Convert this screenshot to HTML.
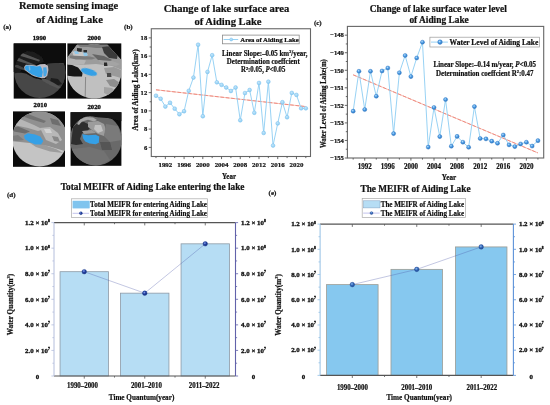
<!DOCTYPE html>
<html><head><meta charset="utf-8"><title>Aiding Lake</title>
<style>
html,body{margin:0;padding:0;background:#fff;}
svg{display:block;}
text{font-family:"Liberation Serif", serif;stroke:#1a1a1a;stroke-width:0.22px;paint-order:stroke;}
</style></head><body>
<svg width="550" height="405" viewBox="0 0 550 405">
<rect width="550" height="405" fill="#fff"/>
<defs>
<radialGradient id="gb" cx="0.4" cy="0.35" r="0.7"><stop offset="0" stop-color="#c4e6fb"/><stop offset="1" stop-color="#88cbf2"/></radialGradient>
<radialGradient id="ge" cx="0.4" cy="0.35" r="0.7"><stop offset="0" stop-color="#8ab8f0"/><stop offset="0.5" stop-color="#2e64b4"/><stop offset="1" stop-color="#1f4a92"/></radialGradient>
<radialGradient id="gc" cx="0.4" cy="0.35" r="0.7"><stop offset="0" stop-color="#b8e0ff"/><stop offset="0.45" stop-color="#4a9ae2"/><stop offset="1" stop-color="#2a70bc"/></radialGradient>
<radialGradient id="gd" cx="0.4" cy="0.35" r="0.7"><stop offset="0" stop-color="#8aa4f4"/><stop offset="0.45" stop-color="#23409e"/><stop offset="1" stop-color="#16267a"/></radialGradient>
</defs>
<text x="68.60" y="9.30" font-size="10.5" text-anchor="middle" font-weight="bold" fill="#111" >Remote sensing image</text>
<text x="69.60" y="22.60" font-size="10.5" text-anchor="middle" font-weight="bold" fill="#111" >of Aiding Lake</text>
<text x="3.20" y="28.70" font-size="7.0" text-anchor="start" font-weight="bold" fill="#111" >(a)</text>
<text x="39.40" y="39.80" font-size="6.7" text-anchor="middle" font-weight="bold" fill="#111" style="stroke-width:0.35px">1990</text>
<text x="94.10" y="39.80" font-size="6.7" text-anchor="middle" font-weight="bold" fill="#111" style="stroke-width:0.35px">2000</text>
<text x="40.30" y="107.30" font-size="6.7" text-anchor="middle" font-weight="bold" fill="#111" style="stroke-width:0.35px">2010</text>
<text x="94.20" y="109.20" font-size="6.7" text-anchor="middle" font-weight="bold" fill="#111" style="stroke-width:0.35px">2020</text>
<g id="sat">
<defs>
<clipPath id="s1"><rect x="13.7" y="43.4" width="52.3" height="55.2"/></clipPath>
<clipPath id="s2"><rect x="67.4" y="43.4" width="53.9" height="55.2"/></clipPath>
<clipPath id="s3"><rect x="13" y="111.4" width="52" height="55.4"/></clipPath>
<clipPath id="s4"><rect x="70.6" y="112.2" width="50.8" height="53.6"/></clipPath>
<clipPath id="c1" clip-path="url(#s1)"><circle cx="39.8" cy="72.4" r="25.6"/></clipPath>
<clipPath id="c2" clip-path="url(#s2)"><circle cx="94.1" cy="71.4" r="27.3"/><polygon points="77,44.8 107.5,44.8 121.3,60 121.3,76 67.4,76 67.4,57.5"/></clipPath>
<clipPath id="c3" clip-path="url(#s3)"><circle cx="39.6" cy="138.9" r="27.5"/></clipPath>
<clipPath id="c4" clip-path="url(#s4)"><circle cx="95.9" cy="139.4" r="26.0"/></clipPath>
<filter id="blur1" x="-10%" y="-10%" width="120%" height="120%"><feGaussianBlur stdDeviation="0.7"/></filter>
<filter id="blur2" x="-10%" y="-10%" width="120%" height="120%"><feGaussianBlur stdDeviation="0.35"/></filter>
</defs>
<rect x="13.7" y="43.4" width="52.3" height="55.2" fill="#0b0b0b"/>
<rect x="67.4" y="43.4" width="53.9" height="55.2" fill="#0b0b0b"/>
<rect x="13" y="111.4" width="52" height="55.4" fill="#0b0b0b"/>
<rect x="70.6" y="112.2" width="50.8" height="53.6" fill="#0b0b0b"/>
<!-- 1990 -->
<g clip-path="url(#c1)">
<rect x="13" y="45" width="54" height="55" fill="#474747"/>
</g>
<g clip-path="url(#s1)"><polygon points="10,40 70,40 70,63 58,63 50,63.5 47,64 47,80 41,79.5 34,78 26,73.5 20,72.5 14,72 10,72" fill="#0c0c0c" filter="url(#blur1)"/></g>
<g clip-path="url(#c1)">
<g filter="url(#blur1)">
<polygon points="13,74 15,62 20,55 27,51 34,52 42,57 44,62 36,64 28,65 23,68 20,72" fill="#1c1c1c"/>
<polygon points="18,53 21,52.5 30,56 40,60 39,61.5 29,58.5 19,55.5" fill="#575757"/>
<polygon points="16,58.5 19,58 27,61.5 36,65 35,66.5 26,63.5 16,60.5" fill="#525252"/>
<polygon points="15,65 18,65 23,67.5 27,69.5 25,70.5 20,69 15,67" fill="#424242"/>
<polygon points="47,64 58,63 66,65 66,87 58,86 50,82.5 46,79" fill="#3a3a3a"/>
<polygon points="51,78 58,79 62,84 56,86 50,82" fill="#1e1e1e"/>
<polygon points="41,78 46,79 54,83 61,87.5 58,88.5 50,85 43,81" fill="#555"/>
</g>
<g filter="url(#blur2)">
<polygon points="24.1,66.9 25.9,64.8 31.9,65.1 36.6,65.7 40.1,64.2 44.9,63.9 47.9,65.7 48.4,69.9 47.3,75.8 44.9,78.1 40.7,77.9 34.8,76.4 31.9,75.2 27.7,72.2 24.7,69.9" fill="#bdb9c1"/>
<polygon points="24.9,67 26.6,65.6 32,65.8 36.5,66.4 40.2,66.1 41.6,68 42.8,72 41.9,76.9 38,77.1 34.8,75.6 31.9,74.4 27.9,71.6 25.3,69.5" fill="#36a0e6"/>
<polygon points="43.2,67.6 46.4,67.2 47,72 46,76 43.6,76.6 43.3,72" fill="#4aa6e4"/>
<polygon points="28.6,66.5 30,66.3 30.5,70 29.2,71" fill="#7ab8e0"/>
</g>
</g>
<!-- 2000 -->
<g clip-path="url(#c2)">
<rect x="66" y="43" width="56" height="56" fill="#c0c0c0"/>
<g filter="url(#blur1)">
<polygon points="66,43 122,43 122,70 112,66 104,65 96,64 88,64.5 80,65 74,64 66,63" fill="#9c9c9c"/>
<polygon points="76,43 110,43 106,48 96,48 88,47 80,47" fill="#7a7a7a"/>
<polygon points="102,47 110,46 118,52 117,59 109,58 104,53" fill="#3a3a3a"/>
<polygon points="108,43 122,43 122,56 116,50" fill="#1e1e1e"/>
<polygon points="77,48 82,48.5 81.5,52 77,51.5" fill="#2a2a2a"/>
<polygon points="83.5,50 87,50 87,53 83.5,53" fill="#2a2a2a"/>
<polygon points="72,51.5 82,52 88,54.5 85,57 74,57" fill="#c8c8c8"/>
<polygon points="68,58.5 78,58.5 86,60.5 84,64.5 72,65 67,64" fill="#b4b4b4"/>
<polygon points="70,55.5 90,56.5 96,58 92,59.5 76,59.5 70,58" fill="#7c7c7c"/>
<polygon points="92,54 104,56 112,60 108,62 98,60" fill="#666"/>
<polygon points="98,60 112,61 120,64 116,66 102,64" fill="#a4a4a4"/>
<polygon points="66,64.5 72,65 78,67.5 82.5,73 82,76.5 74,76.5 66,75.5" fill="#121212"/>
<polygon points="104,62.5 107,62.5 107.5,66 104,66" fill="#2a2a2a"/>
<polygon points="104,68 114,67 121,70 121,78 114,76 106,74" fill="#9a9a9a"/>
<polygon points="107,73 111,73 111.5,77 107,77" fill="#4a4a4a"/>
<polygon points="106,80 114,79 120,83 118,88 110,86" fill="#8e8e8e"/>
<polygon points="104,87 112,88 116,92 110,96 104,93" fill="#a2a2a2"/>
<polygon points="74,51 78,51.5 79,54 75,54" fill="#90c8ea"/>
<polygon points="83,52.5 87,52.5 87.5,56 84,56" fill="#90c8ea"/>
</g>
<line x1="85.6" y1="77" x2="85.2" y2="97" stroke="#7a7a7a" stroke-width="0.8"/>
<ellipse cx="89" cy="72" rx="8.4" ry="3.3" transform="rotate(17 89 72)" fill="#36a0e6" filter="url(#blur2)"/>
</g>
<!-- 2010 -->
<g clip-path="url(#c3)">
<rect x="12" y="112" width="54" height="55" fill="#c4c4c4"/>
<g filter="url(#blur1)">
<polygon points="10,110 68,110 68,152 58,149 48,146 40,145 30,143 20,142 10,141" fill="#909090"/>
<polygon points="12,121 20,119 34,125 43,129.5 38,131 28,128 14,125" fill="#b6b6b6"/>
<polygon points="12,128 18,126.5 30,131.5 25,133.5 14,131.5" fill="#6c6c6c"/>
<polygon points="22,116 28,114 46,121 44,123 30,119" fill="#727272"/>
<polygon points="40,128 50,127 58,133 62,140 56,144 46,140" fill="#b8b8b8"/>
<polygon points="44,129 50,129 52,133 46,133" fill="#d2d2d2"/>
<polygon points="50,118 58,120 61,126 52,124" fill="#6e6e6e"/>
<polygon points="56,112 64,114 66,120 60,119" fill="#7a7a7a"/>
<polygon points="52,136 58,137 60,142 54,141" fill="#888"/>
<polygon points="30,143 44,145 56,149 63,153 50,151.5 36,147" fill="#9c9c9c"/>
<polygon points="12,136 18,135 24,140 16,141 12,140" fill="#7c7c7c"/>
</g>
<polygon points="24,135.4 27.8,133.2 35.1,134.4 40.3,136.6 43.3,141.1 41.1,144.4 35.1,144.4 29.2,142.1 24.8,139.1" fill="#36a0e6" filter="url(#blur2)"/>
</g>
<!-- 2020 -->
<g clip-path="url(#c4)">
<rect x="69" y="112" width="54" height="55" fill="#696969"/>
</g>
<g clip-path="url(#s4)"><polygon points="66,108 126,108 126,122 116,120 108,118 100,117.5 96,117 90,116 84,117 78,121 73,126 66,128" fill="#121212" filter="url(#blur1)"/></g>
<g clip-path="url(#c4)">
<g filter="url(#blur1)">
<polygon points="73,127 78,122.5 84,122 89,124.5 90,128 87,131.5 82,133.5 80,139 83,144 76,145 71,144" fill="#2e2e2e"/>
<polygon points="77,124 80,119.5 86,117 93,117.5 97,120 94,121.5 88,119.8 82,121.5 79,125" fill="#a8a8a8"/>
<polygon points="88,122 98,121 104,124 106,130 104,136 98,134 92,130 88,127" fill="#9c9c9c"/>
<polygon points="95,125 101,125 103,131 98,133 94,129" fill="#c2c2c2"/>
<polygon points="82,131 92,130 96,133 84,134" fill="#9a9a9a"/>
<polygon points="106,124 118,126 122,140 110,142 104,136" fill="#7a7a7a"/>
<polygon points="100,142 110,142 112,150 102,150" fill="#545454"/>
<polygon points="72,149 90,147 104,151 110,160 96,167 78,165" fill="#727272"/>
</g>
<polygon points="82.3,134.3 88.2,135.2 95.6,134.7 99.3,136.6 98.8,142.8 95.6,144.3 89.7,143.6 85.2,141.4 83,138.3" fill="#36a0e6" filter="url(#blur2)"/>
</g>
</g>

<text x="226.50" y="12.00" font-size="10.6" text-anchor="middle" font-weight="bold" fill="#111" >Change of lake surface area</text>
<text x="228.00" y="25.00" font-size="10.6" text-anchor="middle" font-weight="bold" fill="#111" >of Aiding Lake</text>
<text x="124.10" y="28.70" font-size="7.0" text-anchor="start" font-weight="bold" fill="#111" >(b)</text>
<rect x="151.3" y="28.75" width="159.20" height="127.75" fill="none" stroke="#666" stroke-width="1.1"/>
<line x1="148.70" y1="147.38" x2="151.30" y2="147.38" stroke="#555" stroke-width="0.9" />
<text x="147.20" y="149.68" font-size="6.6" text-anchor="end" font-weight="bold" fill="#111" >6</text>
<line x1="149.70" y1="138.25" x2="151.30" y2="138.25" stroke="#555" stroke-width="0.9" />
<line x1="148.70" y1="129.12" x2="151.30" y2="129.12" stroke="#555" stroke-width="0.9" />
<text x="147.20" y="131.43" font-size="6.6" text-anchor="end" font-weight="bold" fill="#111" >8</text>
<line x1="149.70" y1="120.00" x2="151.30" y2="120.00" stroke="#555" stroke-width="0.9" />
<line x1="148.70" y1="110.88" x2="151.30" y2="110.88" stroke="#555" stroke-width="0.9" />
<text x="147.20" y="113.17" font-size="6.6" text-anchor="end" font-weight="bold" fill="#111" >10</text>
<line x1="149.70" y1="101.75" x2="151.30" y2="101.75" stroke="#555" stroke-width="0.9" />
<line x1="148.70" y1="92.62" x2="151.30" y2="92.62" stroke="#555" stroke-width="0.9" />
<text x="147.20" y="94.92" font-size="6.6" text-anchor="end" font-weight="bold" fill="#111" >12</text>
<line x1="149.70" y1="83.50" x2="151.30" y2="83.50" stroke="#555" stroke-width="0.9" />
<line x1="148.70" y1="74.38" x2="151.30" y2="74.38" stroke="#555" stroke-width="0.9" />
<text x="147.20" y="76.67" font-size="6.6" text-anchor="end" font-weight="bold" fill="#111" >14</text>
<line x1="149.70" y1="65.25" x2="151.30" y2="65.25" stroke="#555" stroke-width="0.9" />
<line x1="148.70" y1="56.12" x2="151.30" y2="56.12" stroke="#555" stroke-width="0.9" />
<text x="147.20" y="58.42" font-size="6.6" text-anchor="end" font-weight="bold" fill="#111" >16</text>
<line x1="149.70" y1="47.00" x2="151.30" y2="47.00" stroke="#555" stroke-width="0.9" />
<line x1="148.70" y1="37.88" x2="151.30" y2="37.88" stroke="#555" stroke-width="0.9" />
<text x="147.20" y="40.17" font-size="6.6" text-anchor="end" font-weight="bold" fill="#111" >18</text>
<line x1="155.98" y1="156.50" x2="155.98" y2="158.10" stroke="#555" stroke-width="0.9" />
<line x1="165.35" y1="156.50" x2="165.35" y2="159.10" stroke="#555" stroke-width="0.9" />
<text x="165.35" y="166.60" font-size="6.9" text-anchor="middle" font-weight="bold" fill="#111" >1992</text>
<line x1="174.71" y1="156.50" x2="174.71" y2="158.10" stroke="#555" stroke-width="0.9" />
<line x1="184.08" y1="156.50" x2="184.08" y2="159.10" stroke="#555" stroke-width="0.9" />
<text x="184.08" y="166.60" font-size="6.9" text-anchor="middle" font-weight="bold" fill="#111" >1996</text>
<line x1="193.44" y1="156.50" x2="193.44" y2="158.10" stroke="#555" stroke-width="0.9" />
<line x1="202.81" y1="156.50" x2="202.81" y2="159.10" stroke="#555" stroke-width="0.9" />
<text x="202.81" y="166.60" font-size="6.9" text-anchor="middle" font-weight="bold" fill="#111" >2000</text>
<line x1="212.17" y1="156.50" x2="212.17" y2="158.10" stroke="#555" stroke-width="0.9" />
<line x1="221.54" y1="156.50" x2="221.54" y2="159.10" stroke="#555" stroke-width="0.9" />
<text x="221.54" y="166.60" font-size="6.9" text-anchor="middle" font-weight="bold" fill="#111" >2004</text>
<line x1="230.90" y1="156.50" x2="230.90" y2="158.10" stroke="#555" stroke-width="0.9" />
<line x1="240.26" y1="156.50" x2="240.26" y2="159.10" stroke="#555" stroke-width="0.9" />
<text x="240.26" y="166.60" font-size="6.9" text-anchor="middle" font-weight="bold" fill="#111" >2008</text>
<line x1="249.63" y1="156.50" x2="249.63" y2="158.10" stroke="#555" stroke-width="0.9" />
<line x1="258.99" y1="156.50" x2="258.99" y2="159.10" stroke="#555" stroke-width="0.9" />
<text x="258.99" y="166.60" font-size="6.9" text-anchor="middle" font-weight="bold" fill="#111" >2012</text>
<line x1="268.36" y1="156.50" x2="268.36" y2="158.10" stroke="#555" stroke-width="0.9" />
<line x1="277.72" y1="156.50" x2="277.72" y2="159.10" stroke="#555" stroke-width="0.9" />
<text x="277.72" y="166.60" font-size="6.9" text-anchor="middle" font-weight="bold" fill="#111" >2016</text>
<line x1="287.09" y1="156.50" x2="287.09" y2="158.10" stroke="#555" stroke-width="0.9" />
<line x1="296.45" y1="156.50" x2="296.45" y2="159.10" stroke="#555" stroke-width="0.9" />
<text x="296.45" y="166.60" font-size="6.9" text-anchor="middle" font-weight="bold" fill="#111" >2020</text>
<line x1="305.82" y1="156.50" x2="305.82" y2="158.10" stroke="#555" stroke-width="0.9" />
<text x="229.00" y="178.50" font-size="7.3" text-anchor="middle" font-weight="bold" fill="#111" textLength="14.00" lengthAdjust="spacingAndGlyphs" >Year</text>
<text x="0.00" y="0.00" font-size="7.4" text-anchor="middle" font-weight="bold" fill="#111" transform="translate(138.3,90) rotate(-90)">Area of Aiding Lake(km<tspan font-size="4.5" dy="-2.6">2</tspan><tspan dy="2.6">)</tspan></text>
<line x1="155.98" y1="89.80" x2="305.82" y2="106.59" stroke="#f6c6ba" stroke-width="1.0"/>
<line x1="155.98" y1="89.80" x2="305.82" y2="106.59" stroke="#f08a80" stroke-width="1.0" stroke-dasharray="3.6 1.8"/>
<polyline points="155.98,95.73 160.66,98.74 165.35,106.59 170.03,102.75 174.71,108.69 179.39,114.25 184.08,111.24 188.76,90.80 193.44,77.57 198.12,44.72 202.81,116.26 207.49,71.91 212.17,55.21 216.85,82.31 221.54,84.87 226.22,87.52 230.90,90.98 235.58,87.52 240.26,120.27 244.95,93.08 249.63,89.98 254.31,112.79 258.99,82.95 263.68,132.96 268.36,81.67 273.04,145.55 277.72,123.38 282.41,102.21 287.09,117.26 291.77,92.90 296.45,94.91 301.14,108.32 305.82,108.32" fill="none" stroke="#8ccdf3" stroke-width="0.9"/>
<circle cx="155.98" cy="95.73" r="1.9" fill="url(#gb)" stroke="#7cc0ec" stroke-width="0.5"/>
<circle cx="160.66" cy="98.74" r="1.9" fill="url(#gb)" stroke="#7cc0ec" stroke-width="0.5"/>
<circle cx="165.35" cy="106.59" r="1.9" fill="url(#gb)" stroke="#7cc0ec" stroke-width="0.5"/>
<circle cx="170.03" cy="102.75" r="1.9" fill="url(#gb)" stroke="#7cc0ec" stroke-width="0.5"/>
<circle cx="174.71" cy="108.69" r="1.9" fill="url(#gb)" stroke="#7cc0ec" stroke-width="0.5"/>
<circle cx="179.39" cy="114.25" r="1.9" fill="url(#gb)" stroke="#7cc0ec" stroke-width="0.5"/>
<circle cx="184.08" cy="111.24" r="1.9" fill="url(#gb)" stroke="#7cc0ec" stroke-width="0.5"/>
<circle cx="188.76" cy="90.80" r="1.9" fill="url(#gb)" stroke="#7cc0ec" stroke-width="0.5"/>
<circle cx="193.44" cy="77.57" r="1.9" fill="url(#gb)" stroke="#7cc0ec" stroke-width="0.5"/>
<circle cx="198.12" cy="44.72" r="1.9" fill="url(#gb)" stroke="#7cc0ec" stroke-width="0.5"/>
<circle cx="202.81" cy="116.26" r="1.9" fill="url(#gb)" stroke="#7cc0ec" stroke-width="0.5"/>
<circle cx="207.49" cy="71.91" r="1.9" fill="url(#gb)" stroke="#7cc0ec" stroke-width="0.5"/>
<circle cx="212.17" cy="55.21" r="1.9" fill="url(#gb)" stroke="#7cc0ec" stroke-width="0.5"/>
<circle cx="216.85" cy="82.31" r="1.9" fill="url(#gb)" stroke="#7cc0ec" stroke-width="0.5"/>
<circle cx="221.54" cy="84.87" r="1.9" fill="url(#gb)" stroke="#7cc0ec" stroke-width="0.5"/>
<circle cx="226.22" cy="87.52" r="1.9" fill="url(#gb)" stroke="#7cc0ec" stroke-width="0.5"/>
<circle cx="230.90" cy="90.98" r="1.9" fill="url(#gb)" stroke="#7cc0ec" stroke-width="0.5"/>
<circle cx="235.58" cy="87.52" r="1.9" fill="url(#gb)" stroke="#7cc0ec" stroke-width="0.5"/>
<circle cx="240.26" cy="120.27" r="1.9" fill="url(#gb)" stroke="#7cc0ec" stroke-width="0.5"/>
<circle cx="244.95" cy="93.08" r="1.9" fill="url(#gb)" stroke="#7cc0ec" stroke-width="0.5"/>
<circle cx="249.63" cy="89.98" r="1.9" fill="url(#gb)" stroke="#7cc0ec" stroke-width="0.5"/>
<circle cx="254.31" cy="112.79" r="1.9" fill="url(#gb)" stroke="#7cc0ec" stroke-width="0.5"/>
<circle cx="258.99" cy="82.95" r="1.9" fill="url(#gb)" stroke="#7cc0ec" stroke-width="0.5"/>
<circle cx="263.68" cy="132.96" r="1.9" fill="url(#gb)" stroke="#7cc0ec" stroke-width="0.5"/>
<circle cx="268.36" cy="81.67" r="1.9" fill="url(#gb)" stroke="#7cc0ec" stroke-width="0.5"/>
<circle cx="273.04" cy="145.55" r="1.9" fill="url(#gb)" stroke="#7cc0ec" stroke-width="0.5"/>
<circle cx="277.72" cy="123.38" r="1.9" fill="url(#gb)" stroke="#7cc0ec" stroke-width="0.5"/>
<circle cx="282.41" cy="102.21" r="1.9" fill="url(#gb)" stroke="#7cc0ec" stroke-width="0.5"/>
<circle cx="287.09" cy="117.26" r="1.9" fill="url(#gb)" stroke="#7cc0ec" stroke-width="0.5"/>
<circle cx="291.77" cy="92.90" r="1.9" fill="url(#gb)" stroke="#7cc0ec" stroke-width="0.5"/>
<circle cx="296.45" cy="94.91" r="1.9" fill="url(#gb)" stroke="#7cc0ec" stroke-width="0.5"/>
<circle cx="301.14" cy="108.32" r="1.9" fill="url(#gb)" stroke="#7cc0ec" stroke-width="0.5"/>
<circle cx="305.82" cy="108.32" r="1.9" fill="url(#gb)" stroke="#7cc0ec" stroke-width="0.5"/>
<rect x="222.4" y="35.1" width="76.8" height="8.7" fill="#fff" stroke="#8a8a8a" stroke-width="0.8"/>
<line x1="223.60" y1="39.50" x2="238.20" y2="39.50" stroke="#8ccdf3" stroke-width="0.9" />
<circle cx="231.2" cy="39.5" r="1.5" fill="url(#gb)" stroke="#7cc0ec" stroke-width="0.5"/>
<text x="240.30" y="42.30" font-size="6.75" text-anchor="start" font-weight="bold" fill="#111" >Area of Aiding Lake</text>
<text x="264.70" y="55.70" font-size="7.3" text-anchor="middle" font-weight="bold" fill="#111" textLength="85.42" lengthAdjust="spacingAndGlyphs" >Linear Slope:&#8211;0.05 km<tspan font-size="4.52" dy="-2.52">2</tspan><tspan dy="2.52">/year,</tspan></text>
<text x="263.30" y="63.60" font-size="7.3" text-anchor="middle" font-weight="bold" fill="#111" textLength="72.91" lengthAdjust="spacingAndGlyphs" >Determination coeffcient</text>
<text x="263.20" y="72.10" font-size="7.3" text-anchor="middle" font-weight="bold" fill="#111" textLength="44.27" lengthAdjust="spacingAndGlyphs" >R<tspan font-size="4.65" dy="-2.60">2</tspan><tspan dy="2.60">:0.05, </tspan><tspan font-style="italic">P</tspan>&lt;0.05</text>
<text x="438.30" y="12.10" font-size="9.4" text-anchor="middle" font-weight="bold" fill="#111" >Change of lake surface water level</text>
<text x="439.10" y="23.40" font-size="9.4" text-anchor="middle" font-weight="bold" fill="#111" >of Aiding Lake</text>
<text x="313.90" y="24.80" font-size="7.0" text-anchor="start" font-weight="bold" fill="#111" >(c)</text>
<rect x="347.4" y="26.4" width="196.30" height="131.60" fill="none" stroke="#666" stroke-width="1.1"/>
<line x1="344.80" y1="158.00" x2="347.40" y2="158.00" stroke="#555" stroke-width="0.9" />
<text x="343.90" y="160.30" font-size="6.6" text-anchor="end" font-weight="bold" fill="#111" >&#8722;155</text>
<line x1="345.80" y1="149.23" x2="347.40" y2="149.23" stroke="#555" stroke-width="0.9" />
<line x1="344.80" y1="140.45" x2="347.40" y2="140.45" stroke="#555" stroke-width="0.9" />
<text x="343.90" y="142.75" font-size="6.6" text-anchor="end" font-weight="bold" fill="#111" >&#8722;154</text>
<line x1="345.80" y1="131.68" x2="347.40" y2="131.68" stroke="#555" stroke-width="0.9" />
<line x1="344.80" y1="122.91" x2="347.40" y2="122.91" stroke="#555" stroke-width="0.9" />
<text x="343.90" y="125.21" font-size="6.6" text-anchor="end" font-weight="bold" fill="#111" >&#8722;153</text>
<line x1="345.80" y1="114.13" x2="347.40" y2="114.13" stroke="#555" stroke-width="0.9" />
<line x1="344.80" y1="105.36" x2="347.40" y2="105.36" stroke="#555" stroke-width="0.9" />
<text x="343.90" y="107.66" font-size="6.6" text-anchor="end" font-weight="bold" fill="#111" >&#8722;152</text>
<line x1="345.80" y1="96.59" x2="347.40" y2="96.59" stroke="#555" stroke-width="0.9" />
<line x1="344.80" y1="87.81" x2="347.40" y2="87.81" stroke="#555" stroke-width="0.9" />
<text x="343.90" y="90.11" font-size="6.6" text-anchor="end" font-weight="bold" fill="#111" >&#8722;151</text>
<line x1="345.80" y1="79.04" x2="347.40" y2="79.04" stroke="#555" stroke-width="0.9" />
<line x1="344.80" y1="70.27" x2="347.40" y2="70.27" stroke="#555" stroke-width="0.9" />
<text x="343.90" y="72.57" font-size="6.6" text-anchor="end" font-weight="bold" fill="#111" >&#8722;150</text>
<line x1="345.80" y1="61.49" x2="347.40" y2="61.49" stroke="#555" stroke-width="0.9" />
<line x1="344.80" y1="52.72" x2="347.40" y2="52.72" stroke="#555" stroke-width="0.9" />
<text x="343.90" y="55.02" font-size="6.6" text-anchor="end" font-weight="bold" fill="#111" >&#8722;149</text>
<line x1="345.80" y1="43.95" x2="347.40" y2="43.95" stroke="#555" stroke-width="0.9" />
<line x1="344.80" y1="35.17" x2="347.40" y2="35.17" stroke="#555" stroke-width="0.9" />
<text x="343.90" y="37.47" font-size="6.6" text-anchor="end" font-weight="bold" fill="#111" >&#8722;148</text>
<line x1="353.17" y1="158.00" x2="353.17" y2="159.60" stroke="#555" stroke-width="0.9" />
<line x1="364.72" y1="158.00" x2="364.72" y2="160.60" stroke="#555" stroke-width="0.9" />
<text x="364.72" y="169.10" font-size="7.3" text-anchor="middle" font-weight="bold" fill="#111" textLength="14.00" lengthAdjust="spacingAndGlyphs" >1992</text>
<line x1="376.27" y1="158.00" x2="376.27" y2="159.60" stroke="#555" stroke-width="0.9" />
<line x1="387.81" y1="158.00" x2="387.81" y2="160.60" stroke="#555" stroke-width="0.9" />
<text x="387.81" y="169.10" font-size="7.3" text-anchor="middle" font-weight="bold" fill="#111" textLength="14.00" lengthAdjust="spacingAndGlyphs" >1996</text>
<line x1="399.36" y1="158.00" x2="399.36" y2="159.60" stroke="#555" stroke-width="0.9" />
<line x1="410.91" y1="158.00" x2="410.91" y2="160.60" stroke="#555" stroke-width="0.9" />
<text x="410.91" y="169.10" font-size="7.3" text-anchor="middle" font-weight="bold" fill="#111" textLength="14.00" lengthAdjust="spacingAndGlyphs" >2000</text>
<line x1="422.46" y1="158.00" x2="422.46" y2="159.60" stroke="#555" stroke-width="0.9" />
<line x1="434.00" y1="158.00" x2="434.00" y2="160.60" stroke="#555" stroke-width="0.9" />
<text x="434.00" y="169.10" font-size="7.3" text-anchor="middle" font-weight="bold" fill="#111" textLength="14.00" lengthAdjust="spacingAndGlyphs" >2004</text>
<line x1="445.55" y1="158.00" x2="445.55" y2="159.60" stroke="#555" stroke-width="0.9" />
<line x1="457.10" y1="158.00" x2="457.10" y2="160.60" stroke="#555" stroke-width="0.9" />
<text x="457.10" y="169.10" font-size="7.3" text-anchor="middle" font-weight="bold" fill="#111" textLength="14.00" lengthAdjust="spacingAndGlyphs" >2008</text>
<line x1="468.64" y1="158.00" x2="468.64" y2="159.60" stroke="#555" stroke-width="0.9" />
<line x1="480.19" y1="158.00" x2="480.19" y2="160.60" stroke="#555" stroke-width="0.9" />
<text x="480.19" y="169.10" font-size="7.3" text-anchor="middle" font-weight="bold" fill="#111" textLength="14.00" lengthAdjust="spacingAndGlyphs" >2012</text>
<line x1="491.74" y1="158.00" x2="491.74" y2="159.60" stroke="#555" stroke-width="0.9" />
<line x1="503.29" y1="158.00" x2="503.29" y2="160.60" stroke="#555" stroke-width="0.9" />
<text x="503.29" y="169.10" font-size="7.3" text-anchor="middle" font-weight="bold" fill="#111" textLength="14.00" lengthAdjust="spacingAndGlyphs" >2016</text>
<line x1="514.83" y1="158.00" x2="514.83" y2="159.60" stroke="#555" stroke-width="0.9" />
<line x1="526.38" y1="158.00" x2="526.38" y2="160.60" stroke="#555" stroke-width="0.9" />
<text x="526.38" y="169.10" font-size="7.3" text-anchor="middle" font-weight="bold" fill="#111" textLength="14.00" lengthAdjust="spacingAndGlyphs" >2020</text>
<line x1="537.93" y1="158.00" x2="537.93" y2="159.60" stroke="#555" stroke-width="0.9" />
<text x="449.00" y="179.70" font-size="7.3" text-anchor="middle" font-weight="bold" fill="#111" textLength="14.38" lengthAdjust="spacingAndGlyphs" >Year</text>
<text x="0.00" y="0.00" font-size="7.3" text-anchor="middle" font-weight="bold" fill="#111" textLength="88.80" lengthAdjust="spacingAndGlyphs" transform="translate(326.2,103.6) rotate(-90)">Water Level of Aiding Lake(m)</text>
<line x1="353.17" y1="74.83" x2="537.93" y2="152.91" stroke="#f6c6ba" stroke-width="1.0"/>
<line x1="353.17" y1="74.83" x2="537.93" y2="152.91" stroke="#f08a80" stroke-width="1.0" stroke-dasharray="3.6 1.8"/>
<polyline points="353.17,111.15 358.95,71.32 364.72,109.57 370.49,71.32 376.27,96.24 382.04,70.97 387.81,67.99 393.59,133.61 399.36,72.72 405.14,55.53 410.91,76.58 416.68,57.98 422.46,42.19 428.23,147.12 434.00,107.47 439.78,136.59 445.55,99.57 451.32,146.24 457.10,136.42 462.87,142.21 468.64,147.30 474.42,106.59 480.19,138.52 485.96,138.87 491.74,141.16 497.51,143.26 503.29,135.01 509.06,144.84 514.83,146.59 520.61,143.96 526.38,142.21 532.15,146.07 537.93,140.63" fill="none" stroke="#8ccdf3" stroke-width="0.9"/>
<circle cx="353.17" cy="111.15" r="2.05" fill="url(#gc)" stroke="#2f78c4" stroke-width="0.4"/>
<circle cx="358.95" cy="71.32" r="2.05" fill="url(#gc)" stroke="#2f78c4" stroke-width="0.4"/>
<circle cx="364.72" cy="109.57" r="2.05" fill="url(#gc)" stroke="#2f78c4" stroke-width="0.4"/>
<circle cx="370.49" cy="71.32" r="2.05" fill="url(#gc)" stroke="#2f78c4" stroke-width="0.4"/>
<circle cx="376.27" cy="96.24" r="2.05" fill="url(#gc)" stroke="#2f78c4" stroke-width="0.4"/>
<circle cx="382.04" cy="70.97" r="2.05" fill="url(#gc)" stroke="#2f78c4" stroke-width="0.4"/>
<circle cx="387.81" cy="67.99" r="2.05" fill="url(#gc)" stroke="#2f78c4" stroke-width="0.4"/>
<circle cx="393.59" cy="133.61" r="2.05" fill="url(#gc)" stroke="#2f78c4" stroke-width="0.4"/>
<circle cx="399.36" cy="72.72" r="2.05" fill="url(#gc)" stroke="#2f78c4" stroke-width="0.4"/>
<circle cx="405.14" cy="55.53" r="2.05" fill="url(#gc)" stroke="#2f78c4" stroke-width="0.4"/>
<circle cx="410.91" cy="76.58" r="2.05" fill="url(#gc)" stroke="#2f78c4" stroke-width="0.4"/>
<circle cx="416.68" cy="57.98" r="2.05" fill="url(#gc)" stroke="#2f78c4" stroke-width="0.4"/>
<circle cx="422.46" cy="42.19" r="2.05" fill="url(#gc)" stroke="#2f78c4" stroke-width="0.4"/>
<circle cx="428.23" cy="147.12" r="2.05" fill="url(#gc)" stroke="#2f78c4" stroke-width="0.4"/>
<circle cx="434.00" cy="107.47" r="2.05" fill="url(#gc)" stroke="#2f78c4" stroke-width="0.4"/>
<circle cx="439.78" cy="136.59" r="2.05" fill="url(#gc)" stroke="#2f78c4" stroke-width="0.4"/>
<circle cx="445.55" cy="99.57" r="2.05" fill="url(#gc)" stroke="#2f78c4" stroke-width="0.4"/>
<circle cx="451.32" cy="146.24" r="2.05" fill="url(#gc)" stroke="#2f78c4" stroke-width="0.4"/>
<circle cx="457.10" cy="136.42" r="2.05" fill="url(#gc)" stroke="#2f78c4" stroke-width="0.4"/>
<circle cx="462.87" cy="142.21" r="2.05" fill="url(#gc)" stroke="#2f78c4" stroke-width="0.4"/>
<circle cx="468.64" cy="147.30" r="2.05" fill="url(#gc)" stroke="#2f78c4" stroke-width="0.4"/>
<circle cx="474.42" cy="106.59" r="2.05" fill="url(#gc)" stroke="#2f78c4" stroke-width="0.4"/>
<circle cx="480.19" cy="138.52" r="2.05" fill="url(#gc)" stroke="#2f78c4" stroke-width="0.4"/>
<circle cx="485.96" cy="138.87" r="2.05" fill="url(#gc)" stroke="#2f78c4" stroke-width="0.4"/>
<circle cx="491.74" cy="141.16" r="2.05" fill="url(#gc)" stroke="#2f78c4" stroke-width="0.4"/>
<circle cx="497.51" cy="143.26" r="2.05" fill="url(#gc)" stroke="#2f78c4" stroke-width="0.4"/>
<circle cx="503.29" cy="135.01" r="2.05" fill="url(#gc)" stroke="#2f78c4" stroke-width="0.4"/>
<circle cx="509.06" cy="144.84" r="2.05" fill="url(#gc)" stroke="#2f78c4" stroke-width="0.4"/>
<circle cx="514.83" cy="146.59" r="2.05" fill="url(#gc)" stroke="#2f78c4" stroke-width="0.4"/>
<circle cx="520.61" cy="143.96" r="2.05" fill="url(#gc)" stroke="#2f78c4" stroke-width="0.4"/>
<circle cx="526.38" cy="142.21" r="2.05" fill="url(#gc)" stroke="#2f78c4" stroke-width="0.4"/>
<circle cx="532.15" cy="146.07" r="2.05" fill="url(#gc)" stroke="#2f78c4" stroke-width="0.4"/>
<circle cx="537.93" cy="140.63" r="2.05" fill="url(#gc)" stroke="#2f78c4" stroke-width="0.4"/>
<rect x="429.9" y="37.2" width="109.5" height="9.8" fill="#fff" stroke="#999" stroke-width="0.7"/>
<line x1="431.00" y1="42.10" x2="447.90" y2="42.10" stroke="#8ccdf3" stroke-width="0.9" />
<circle cx="440" cy="42.1" r="2.3" fill="url(#gc)" stroke="#2b73c0" stroke-width="0.4"/>
<text x="449.60" y="44.70" font-size="7.5" text-anchor="start" font-weight="bold" fill="#111" >Water Level of Aiding Lake</text>
<text x="484.70" y="67.40" font-size="7.3" text-anchor="middle" font-weight="bold" fill="#111" textLength="102.41" lengthAdjust="spacingAndGlyphs" >Linear Slope:&#8211;0.14 m/year, <tspan font-style="italic">P</tspan>&lt;0.05</text>
<text x="484.80" y="75.70" font-size="7.3" text-anchor="middle" font-weight="bold" fill="#111" textLength="97.66" lengthAdjust="spacingAndGlyphs" >Determination coeffcient R<tspan font-size="4.59" dy="-2.50">2</tspan><tspan dy="2.50">:0.47</tspan></text>
<text x="152.60" y="189.60" font-size="9.3" text-anchor="middle" font-weight="bold" fill="#111" >Total MEIFR of Aiding Lake entering the lake</text>
<text x="7.00" y="197.20" font-size="7.0" text-anchor="start" font-weight="bold" fill="#111" >(d)</text>
<rect x="60.05" y="271.69" width="48.40" height="104.31" fill="#b6ddf4" stroke="#8d9aa6" stroke-width="0.8"/>
<rect x="120.55" y="293.16" width="48.40" height="82.84" fill="#b6ddf4" stroke="#8d9aa6" stroke-width="0.8"/>
<rect x="181.05" y="243.82" width="48.40" height="132.18" fill="#b6ddf4" stroke="#8d9aa6" stroke-width="0.8"/>
<polyline points="84.25,271.69 144.75,293.16 205.25,243.82" fill="none" stroke="#4a56a8" stroke-opacity="0.42" stroke-width="0.8"/>
<circle cx="84.25" cy="271.69" r="2.3" fill="url(#gd)" stroke="#1d3f8f" stroke-width="0.4"/>
<circle cx="144.75" cy="293.16" r="2.3" fill="url(#gd)" stroke="#1d3f8f" stroke-width="0.4"/>
<circle cx="205.25" cy="243.82" r="2.3" fill="url(#gd)" stroke="#1d3f8f" stroke-width="0.4"/>
<line x1="54.00" y1="222.60" x2="235.50" y2="222.60" stroke="#555" stroke-width="1.1" />
<line x1="54.00" y1="376.00" x2="235.50" y2="376.00" stroke="#555" stroke-width="1.1" />
<line x1="54.00" y1="222.60" x2="54.00" y2="376.00" stroke="#b4bedc" stroke-width="1.0" />
<line x1="235.50" y1="222.60" x2="235.50" y2="376.00" stroke="#6262aa" stroke-width="1.1" />
<line x1="51.40" y1="376.00" x2="54.00" y2="376.00" stroke="#b4bedc" stroke-width="0.8" />
<line x1="235.50" y1="376.00" x2="238.10" y2="376.00" stroke="#6262aa" stroke-width="0.8" />
<text x="37.40" y="379.40" font-size="6.9" text-anchor="middle" font-weight="bold" fill="#111" style="stroke-width:0.35px">0</text>
<text x="253.40" y="379.40" font-size="6.9" text-anchor="middle" font-weight="bold" fill="#111" style="stroke-width:0.35px">0</text>
<line x1="52.40" y1="363.22" x2="54.00" y2="363.22" stroke="#b4bedc" stroke-width="0.8" />
<line x1="235.50" y1="363.22" x2="237.10" y2="363.22" stroke="#6262aa" stroke-width="0.8" />
<line x1="51.40" y1="350.43" x2="54.00" y2="350.43" stroke="#b4bedc" stroke-width="0.8" />
<line x1="235.50" y1="350.43" x2="238.10" y2="350.43" stroke="#6262aa" stroke-width="0.8" />
<text x="37.40" y="352.73" font-size="6.9" text-anchor="middle" font-weight="bold" fill="#111" style="stroke-width:0.35px">2.0 &#215; 10<tspan font-size="3.6" dy="-2.8">7</tspan></text>
<text x="253.40" y="352.73" font-size="6.9" text-anchor="middle" font-weight="bold" fill="#111" style="stroke-width:0.35px">2.0 &#215; 10<tspan font-size="3.6" dy="-2.8">7</tspan></text>
<line x1="52.40" y1="337.65" x2="54.00" y2="337.65" stroke="#b4bedc" stroke-width="0.8" />
<line x1="235.50" y1="337.65" x2="237.10" y2="337.65" stroke="#6262aa" stroke-width="0.8" />
<line x1="51.40" y1="324.87" x2="54.00" y2="324.87" stroke="#b4bedc" stroke-width="0.8" />
<line x1="235.50" y1="324.87" x2="238.10" y2="324.87" stroke="#6262aa" stroke-width="0.8" />
<text x="37.40" y="327.17" font-size="6.9" text-anchor="middle" font-weight="bold" fill="#111" style="stroke-width:0.35px">4.0 &#215; 10<tspan font-size="3.6" dy="-2.8">7</tspan></text>
<text x="253.40" y="327.17" font-size="6.9" text-anchor="middle" font-weight="bold" fill="#111" style="stroke-width:0.35px">4.0 &#215; 10<tspan font-size="3.6" dy="-2.8">7</tspan></text>
<line x1="52.40" y1="312.08" x2="54.00" y2="312.08" stroke="#b4bedc" stroke-width="0.8" />
<line x1="235.50" y1="312.08" x2="237.10" y2="312.08" stroke="#6262aa" stroke-width="0.8" />
<line x1="51.40" y1="299.30" x2="54.00" y2="299.30" stroke="#b4bedc" stroke-width="0.8" />
<line x1="235.50" y1="299.30" x2="238.10" y2="299.30" stroke="#6262aa" stroke-width="0.8" />
<text x="37.40" y="301.60" font-size="6.9" text-anchor="middle" font-weight="bold" fill="#111" style="stroke-width:0.35px">6.0 &#215; 10<tspan font-size="3.6" dy="-2.8">7</tspan></text>
<text x="253.40" y="301.60" font-size="6.9" text-anchor="middle" font-weight="bold" fill="#111" style="stroke-width:0.35px">6.0 &#215; 10<tspan font-size="3.6" dy="-2.8">7</tspan></text>
<line x1="52.40" y1="286.52" x2="54.00" y2="286.52" stroke="#b4bedc" stroke-width="0.8" />
<line x1="235.50" y1="286.52" x2="237.10" y2="286.52" stroke="#6262aa" stroke-width="0.8" />
<line x1="51.40" y1="273.73" x2="54.00" y2="273.73" stroke="#b4bedc" stroke-width="0.8" />
<line x1="235.50" y1="273.73" x2="238.10" y2="273.73" stroke="#6262aa" stroke-width="0.8" />
<text x="37.40" y="276.03" font-size="6.9" text-anchor="middle" font-weight="bold" fill="#111" style="stroke-width:0.35px">8.0 &#215; 10<tspan font-size="3.6" dy="-2.8">7</tspan></text>
<text x="253.40" y="276.03" font-size="6.9" text-anchor="middle" font-weight="bold" fill="#111" style="stroke-width:0.35px">8.0 &#215; 10<tspan font-size="3.6" dy="-2.8">7</tspan></text>
<line x1="52.40" y1="260.95" x2="54.00" y2="260.95" stroke="#b4bedc" stroke-width="0.8" />
<line x1="235.50" y1="260.95" x2="237.10" y2="260.95" stroke="#6262aa" stroke-width="0.8" />
<line x1="51.40" y1="248.17" x2="54.00" y2="248.17" stroke="#b4bedc" stroke-width="0.8" />
<line x1="235.50" y1="248.17" x2="238.10" y2="248.17" stroke="#6262aa" stroke-width="0.8" />
<text x="37.40" y="250.47" font-size="6.9" text-anchor="middle" font-weight="bold" fill="#111" style="stroke-width:0.35px">1.0 &#215; 10<tspan font-size="3.6" dy="-2.8">8</tspan></text>
<text x="253.40" y="250.47" font-size="6.9" text-anchor="middle" font-weight="bold" fill="#111" style="stroke-width:0.35px">1.0 &#215; 10<tspan font-size="3.6" dy="-2.8">8</tspan></text>
<line x1="52.40" y1="235.38" x2="54.00" y2="235.38" stroke="#b4bedc" stroke-width="0.8" />
<line x1="235.50" y1="235.38" x2="237.10" y2="235.38" stroke="#6262aa" stroke-width="0.8" />
<line x1="51.40" y1="222.60" x2="54.00" y2="222.60" stroke="#b4bedc" stroke-width="0.8" />
<line x1="235.50" y1="222.60" x2="238.10" y2="222.60" stroke="#6262aa" stroke-width="0.8" />
<text x="37.40" y="224.90" font-size="6.9" text-anchor="middle" font-weight="bold" fill="#111" style="stroke-width:0.35px">1.2 &#215; 10<tspan font-size="3.6" dy="-2.8">8</tspan></text>
<text x="253.40" y="224.90" font-size="6.9" text-anchor="middle" font-weight="bold" fill="#111" style="stroke-width:0.35px">1.2 &#215; 10<tspan font-size="3.6" dy="-2.8">8</tspan></text>
<line x1="84.25" y1="376.00" x2="84.25" y2="378.60" stroke="#555" stroke-width="0.8" />
<line x1="84.25" y1="222.60" x2="84.25" y2="225.40" stroke="#555" stroke-width="0.8" />
<line x1="144.75" y1="376.00" x2="144.75" y2="378.60" stroke="#555" stroke-width="0.8" />
<line x1="144.75" y1="222.60" x2="144.75" y2="225.40" stroke="#555" stroke-width="0.8" />
<line x1="205.25" y1="376.00" x2="205.25" y2="378.60" stroke="#555" stroke-width="0.8" />
<line x1="205.25" y1="222.60" x2="205.25" y2="225.40" stroke="#555" stroke-width="0.8" />
<line x1="114.50" y1="376.00" x2="114.50" y2="377.60" stroke="#555" stroke-width="0.8" />
<line x1="114.50" y1="222.60" x2="114.50" y2="224.20" stroke="#555" stroke-width="0.8" />
<line x1="175.00" y1="376.00" x2="175.00" y2="377.60" stroke="#555" stroke-width="0.8" />
<line x1="175.00" y1="222.60" x2="175.00" y2="224.20" stroke="#555" stroke-width="0.8" />
<text x="82.50" y="388.30" font-size="7.3" text-anchor="middle" font-weight="bold" fill="#111" textLength="31.02" lengthAdjust="spacingAndGlyphs" >1990&#8211;2000</text>
<text x="146.40" y="388.30" font-size="7.3" text-anchor="middle" font-weight="bold" fill="#111" textLength="31.02" lengthAdjust="spacingAndGlyphs" >2001&#8211;2010</text>
<text x="204.10" y="388.30" font-size="7.3" text-anchor="middle" font-weight="bold" fill="#111" textLength="30.64" lengthAdjust="spacingAndGlyphs" >2011&#8211;2022</text>
<text x="141.50" y="399.80" font-size="7.3" text-anchor="middle" font-weight="bold" fill="#111" textLength="65.56" lengthAdjust="spacingAndGlyphs" >Time Quantum(year)</text>
<text x="0.00" y="0.00" font-size="7.3" text-anchor="middle" font-weight="bold" fill="#111" textLength="61.50" lengthAdjust="spacingAndGlyphs" transform="translate(12.6,304.5) rotate(-90)">Water Quantity(m<tspan font-size="4.55" dy="-2.54">3</tspan><tspan dy="2.54">)</tspan></text>
<rect x="71.6" y="198.8" width="135.8" height="18.8" fill="#fff" stroke="#aaa" stroke-width="0.7"/>
<rect x="72.89999999999999" y="201.0" width="16.5" height="7.1" fill="#80c4ee" stroke="#80c4ee" stroke-width="0.5"/>
<line x1="72.60" y1="213.30" x2="89.10" y2="213.30" stroke="#b4b4ea" stroke-width="0.8" />
<circle cx="80.89999999999999" cy="213.3" r="1.45" fill="url(#gd)" stroke="#1d3f8f" stroke-width="0.4"/>
<text x="90.10" y="207.00" font-size="7.3" text-anchor="start" font-weight="bold" fill="#111" textLength="116.88" lengthAdjust="spacingAndGlyphs" >Total MEIFR for entering Aiding Lake</text>
<text x="90.10" y="216.20" font-size="7.3" text-anchor="start" font-weight="bold" fill="#111" textLength="116.88" lengthAdjust="spacingAndGlyphs" >Total MEIFR for entering Aiding Lake</text>
<text x="415.50" y="192.00" font-size="9.3" text-anchor="middle" font-weight="bold" fill="#111" >The MEIFR of Aiding Lake</text>
<text x="268.60" y="195.10" font-size="7.0" text-anchor="start" font-weight="bold" fill="#111" >(e)</text>
<rect x="326.54" y="284.62" width="51.55" height="90.78" fill="#86c8ef" stroke="#9c9c94" stroke-width="0.8"/>
<rect x="390.98" y="269.36" width="51.55" height="106.04" fill="#86c8ef" stroke="#9c9c94" stroke-width="0.8"/>
<rect x="455.41" y="246.92" width="51.55" height="128.48" fill="#86c8ef" stroke="#9c9c94" stroke-width="0.8"/>
<polyline points="352.32,284.62 416.75,269.36 481.18,246.92" fill="none" stroke="#4a56a8" stroke-opacity="0.42" stroke-width="0.8"/>
<circle cx="352.32" cy="284.62" r="2.3" fill="url(#ge)" stroke="#1d3f8f" stroke-width="0.4"/>
<circle cx="416.75" cy="269.36" r="2.3" fill="url(#ge)" stroke="#1d3f8f" stroke-width="0.4"/>
<circle cx="481.18" cy="246.92" r="2.3" fill="url(#ge)" stroke="#1d3f8f" stroke-width="0.4"/>
<line x1="320.10" y1="224.10" x2="513.40" y2="224.10" stroke="#555" stroke-width="1.1" />
<line x1="320.10" y1="375.40" x2="513.40" y2="375.40" stroke="#555" stroke-width="1.1" />
<line x1="320.10" y1="224.10" x2="320.10" y2="375.40" stroke="#94c0e4" stroke-width="1.0" />
<line x1="513.40" y1="224.10" x2="513.40" y2="375.40" stroke="#5c92d8" stroke-width="1.1" />
<line x1="317.50" y1="375.40" x2="320.10" y2="375.40" stroke="#94c0e4" stroke-width="0.8" />
<line x1="513.40" y1="375.40" x2="516.00" y2="375.40" stroke="#5c92d8" stroke-width="0.8" />
<text x="303.50" y="378.80" font-size="6.9" text-anchor="middle" font-weight="bold" fill="#111" style="stroke-width:0.35px">0</text>
<text x="531.30" y="378.80" font-size="6.9" text-anchor="middle" font-weight="bold" fill="#111" style="stroke-width:0.35px">0</text>
<line x1="318.50" y1="362.79" x2="320.10" y2="362.79" stroke="#94c0e4" stroke-width="0.8" />
<line x1="513.40" y1="362.79" x2="515.00" y2="362.79" stroke="#5c92d8" stroke-width="0.8" />
<line x1="317.50" y1="350.18" x2="320.10" y2="350.18" stroke="#94c0e4" stroke-width="0.8" />
<line x1="513.40" y1="350.18" x2="516.00" y2="350.18" stroke="#5c92d8" stroke-width="0.8" />
<text x="303.50" y="352.48" font-size="6.9" text-anchor="middle" font-weight="bold" fill="#111" style="stroke-width:0.35px">2.0 &#215; 10<tspan font-size="3.6" dy="-2.8">7</tspan></text>
<text x="531.30" y="352.48" font-size="6.9" text-anchor="middle" font-weight="bold" fill="#111" style="stroke-width:0.35px">2.0 &#215; 10<tspan font-size="3.6" dy="-2.8">7</tspan></text>
<line x1="318.50" y1="337.57" x2="320.10" y2="337.57" stroke="#94c0e4" stroke-width="0.8" />
<line x1="513.40" y1="337.57" x2="515.00" y2="337.57" stroke="#5c92d8" stroke-width="0.8" />
<line x1="317.50" y1="324.97" x2="320.10" y2="324.97" stroke="#94c0e4" stroke-width="0.8" />
<line x1="513.40" y1="324.97" x2="516.00" y2="324.97" stroke="#5c92d8" stroke-width="0.8" />
<text x="303.50" y="327.27" font-size="6.9" text-anchor="middle" font-weight="bold" fill="#111" style="stroke-width:0.35px">4.0 &#215; 10<tspan font-size="3.6" dy="-2.8">7</tspan></text>
<text x="531.30" y="327.27" font-size="6.9" text-anchor="middle" font-weight="bold" fill="#111" style="stroke-width:0.35px">4.0 &#215; 10<tspan font-size="3.6" dy="-2.8">7</tspan></text>
<line x1="318.50" y1="312.36" x2="320.10" y2="312.36" stroke="#94c0e4" stroke-width="0.8" />
<line x1="513.40" y1="312.36" x2="515.00" y2="312.36" stroke="#5c92d8" stroke-width="0.8" />
<line x1="317.50" y1="299.75" x2="320.10" y2="299.75" stroke="#94c0e4" stroke-width="0.8" />
<line x1="513.40" y1="299.75" x2="516.00" y2="299.75" stroke="#5c92d8" stroke-width="0.8" />
<text x="303.50" y="302.05" font-size="6.9" text-anchor="middle" font-weight="bold" fill="#111" style="stroke-width:0.35px">6.0 &#215; 10<tspan font-size="3.6" dy="-2.8">7</tspan></text>
<text x="531.30" y="302.05" font-size="6.9" text-anchor="middle" font-weight="bold" fill="#111" style="stroke-width:0.35px">6.0 &#215; 10<tspan font-size="3.6" dy="-2.8">7</tspan></text>
<line x1="318.50" y1="287.14" x2="320.10" y2="287.14" stroke="#94c0e4" stroke-width="0.8" />
<line x1="513.40" y1="287.14" x2="515.00" y2="287.14" stroke="#5c92d8" stroke-width="0.8" />
<line x1="317.50" y1="274.53" x2="320.10" y2="274.53" stroke="#94c0e4" stroke-width="0.8" />
<line x1="513.40" y1="274.53" x2="516.00" y2="274.53" stroke="#5c92d8" stroke-width="0.8" />
<text x="303.50" y="276.83" font-size="6.9" text-anchor="middle" font-weight="bold" fill="#111" style="stroke-width:0.35px">8.0 &#215; 10<tspan font-size="3.6" dy="-2.8">7</tspan></text>
<text x="531.30" y="276.83" font-size="6.9" text-anchor="middle" font-weight="bold" fill="#111" style="stroke-width:0.35px">8.0 &#215; 10<tspan font-size="3.6" dy="-2.8">7</tspan></text>
<line x1="318.50" y1="261.93" x2="320.10" y2="261.93" stroke="#94c0e4" stroke-width="0.8" />
<line x1="513.40" y1="261.93" x2="515.00" y2="261.93" stroke="#5c92d8" stroke-width="0.8" />
<line x1="317.50" y1="249.32" x2="320.10" y2="249.32" stroke="#94c0e4" stroke-width="0.8" />
<line x1="513.40" y1="249.32" x2="516.00" y2="249.32" stroke="#5c92d8" stroke-width="0.8" />
<text x="303.50" y="251.62" font-size="6.9" text-anchor="middle" font-weight="bold" fill="#111" style="stroke-width:0.35px">1.0 &#215; 10<tspan font-size="3.6" dy="-2.8">8</tspan></text>
<text x="531.30" y="251.62" font-size="6.9" text-anchor="middle" font-weight="bold" fill="#111" style="stroke-width:0.35px">1.0 &#215; 10<tspan font-size="3.6" dy="-2.8">8</tspan></text>
<line x1="318.50" y1="236.71" x2="320.10" y2="236.71" stroke="#94c0e4" stroke-width="0.8" />
<line x1="513.40" y1="236.71" x2="515.00" y2="236.71" stroke="#5c92d8" stroke-width="0.8" />
<line x1="317.50" y1="224.10" x2="320.10" y2="224.10" stroke="#94c0e4" stroke-width="0.8" />
<line x1="513.40" y1="224.10" x2="516.00" y2="224.10" stroke="#5c92d8" stroke-width="0.8" />
<text x="303.50" y="226.40" font-size="6.9" text-anchor="middle" font-weight="bold" fill="#111" style="stroke-width:0.35px">1.2 &#215; 10<tspan font-size="3.6" dy="-2.8">8</tspan></text>
<text x="531.30" y="226.40" font-size="6.9" text-anchor="middle" font-weight="bold" fill="#111" style="stroke-width:0.35px">1.2 &#215; 10<tspan font-size="3.6" dy="-2.8">8</tspan></text>
<line x1="352.32" y1="375.40" x2="352.32" y2="378.00" stroke="#555" stroke-width="0.8" />
<line x1="352.32" y1="224.10" x2="352.32" y2="226.90" stroke="#555" stroke-width="0.8" />
<line x1="416.75" y1="375.40" x2="416.75" y2="378.00" stroke="#555" stroke-width="0.8" />
<line x1="416.75" y1="224.10" x2="416.75" y2="226.90" stroke="#555" stroke-width="0.8" />
<line x1="481.18" y1="375.40" x2="481.18" y2="378.00" stroke="#555" stroke-width="0.8" />
<line x1="481.18" y1="224.10" x2="481.18" y2="226.90" stroke="#555" stroke-width="0.8" />
<line x1="384.53" y1="375.40" x2="384.53" y2="377.00" stroke="#555" stroke-width="0.8" />
<line x1="384.53" y1="224.10" x2="384.53" y2="225.70" stroke="#555" stroke-width="0.8" />
<line x1="448.97" y1="375.40" x2="448.97" y2="377.00" stroke="#555" stroke-width="0.8" />
<line x1="448.97" y1="224.10" x2="448.97" y2="225.70" stroke="#555" stroke-width="0.8" />
<text x="352.40" y="389.80" font-size="7.3" text-anchor="middle" font-weight="bold" fill="#111" textLength="31.02" lengthAdjust="spacingAndGlyphs" >1990&#8211;2000</text>
<text x="416.80" y="389.80" font-size="7.3" text-anchor="middle" font-weight="bold" fill="#111" textLength="31.02" lengthAdjust="spacingAndGlyphs" >2001&#8211;2010</text>
<text x="481.80" y="389.80" font-size="7.3" text-anchor="middle" font-weight="bold" fill="#111" textLength="30.64" lengthAdjust="spacingAndGlyphs" >2011&#8211;2022</text>
<text x="419.20" y="399.60" font-size="7.3" text-anchor="middle" font-weight="bold" fill="#111" textLength="65.56" lengthAdjust="spacingAndGlyphs" >Time Quantum(year)</text>
<text x="0.00" y="0.00" font-size="7.3" text-anchor="middle" font-weight="bold" fill="#111" textLength="61.50" lengthAdjust="spacingAndGlyphs" transform="translate(280.6,304.95) rotate(-90)">Water Quantity(m<tspan font-size="4.55" dy="-2.54">3</tspan><tspan dy="2.54">)</tspan></text>
<rect x="362.2" y="198.6" width="103.4" height="19.0" fill="#fff" stroke="#aaa" stroke-width="0.7"/>
<rect x="363.5" y="200.79999999999998" width="16.5" height="7.1" fill="#b6ddf4" stroke="#7f9fbf" stroke-width="0.5"/>
<line x1="363.20" y1="213.10" x2="379.70" y2="213.10" stroke="#b4b4ea" stroke-width="0.8" />
<circle cx="371.5" cy="213.1" r="1.45" fill="url(#ge)" stroke="#1d3f8f" stroke-width="0.4"/>
<text x="380.70" y="206.80" font-size="7.3" text-anchor="start" font-weight="bold" fill="#111" textLength="83.41" lengthAdjust="spacingAndGlyphs" >The MEIFR of Aiding Lake</text>
<text x="380.70" y="216.00" font-size="7.3" text-anchor="start" font-weight="bold" fill="#111" textLength="83.41" lengthAdjust="spacingAndGlyphs" >The MEIFR of Aiding Lake</text>
</svg>
</body></html>
